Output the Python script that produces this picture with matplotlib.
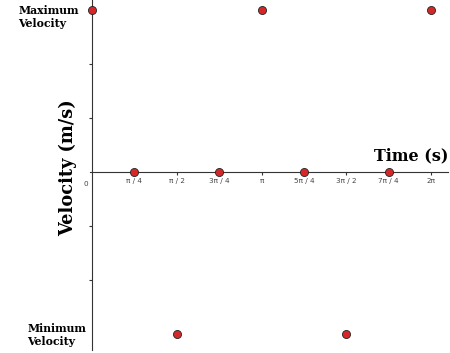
import numpy as np
import matplotlib
matplotlib.use("Agg")
import matplotlib.pyplot as plt

# Sample points (multiples of pi/4) and velocity values
t_quarters = [0, 1, 2, 3, 4, 5, 6, 7, 8]
velocity = [3, 0, -3, 0, 3, 0, -3, 0, 3]
tick_labels = ["π / 4", "π / 2", "3π / 4", "π", "5π / 4", "3π / 2", "7π / 4", "2π"]
y_ticks = [-2, -1, 1, 2]

t = np.array(t_quarters) * np.pi / 4

fig = plt.figure(figsize=(4.5, 3.53), dpi=100)
ax = fig.add_axes([0, 0, 1, 1])
ax.set_xlim(-1.705, 6.635)
ax.set_ylim(-3.352, 3.185)

for s in ["top", "right"]:
    ax.spines[s].set_visible(False)
ax.spines["left"].set_position(("data", 0))
ax.spines["bottom"].set_position(("data", 0))
ax.spines["left"].set_color("#333333")
ax.spines["bottom"].set_color("#333333")
ax.spines["bottom"].set_bounds(-0.03, 6.6)
ax.spines["left"].set_bounds(-3.3, 3.185)

ax.set_xticks(t[1:])
ax.set_xticklabels(tick_labels, fontsize=5.2, color="#444444")
ax.set_yticks(y_ticks)
ax.set_yticklabels([])
ax.tick_params(axis="x", direction="out", length=2.5, width=0.8, color="#333333", pad=2)
ax.tick_params(axis="y", direction="out", length=2.5, width=0.8, color="#333333")

ax.text(-0.08, -0.17, "0", fontsize=5.2, color="#444444", ha="right", va="top")

ax.plot(t, velocity, "o", color="#d62728", markeredgecolor="#222222",
        markeredgewidth=0.6, markersize=5.8, clip_on=False, zorder=5)

bold = dict(family="DejaVu Serif", fontweight="bold", color="#000000")
ax.text(-1.37, 2.87, "Maximum\nVelocity", fontsize=7.8, ha="left", va="center",
        linespacing=1.2, **bold)
ax.text(-1.2, -3.02, "Minimum\nVelocity", fontsize=7.8, ha="left", va="center",
        linespacing=1.2, **bold)
ax.text(6.6, 0.3, "Time (s)", fontsize=11.5, ha="right", va="center", **bold)
ax.text(-0.445, 0.09, "Velocity (m/s)", fontsize=12.8, ha="center", va="center",
        rotation=90, **bold)

fig.savefig("out.png", dpi=100)
